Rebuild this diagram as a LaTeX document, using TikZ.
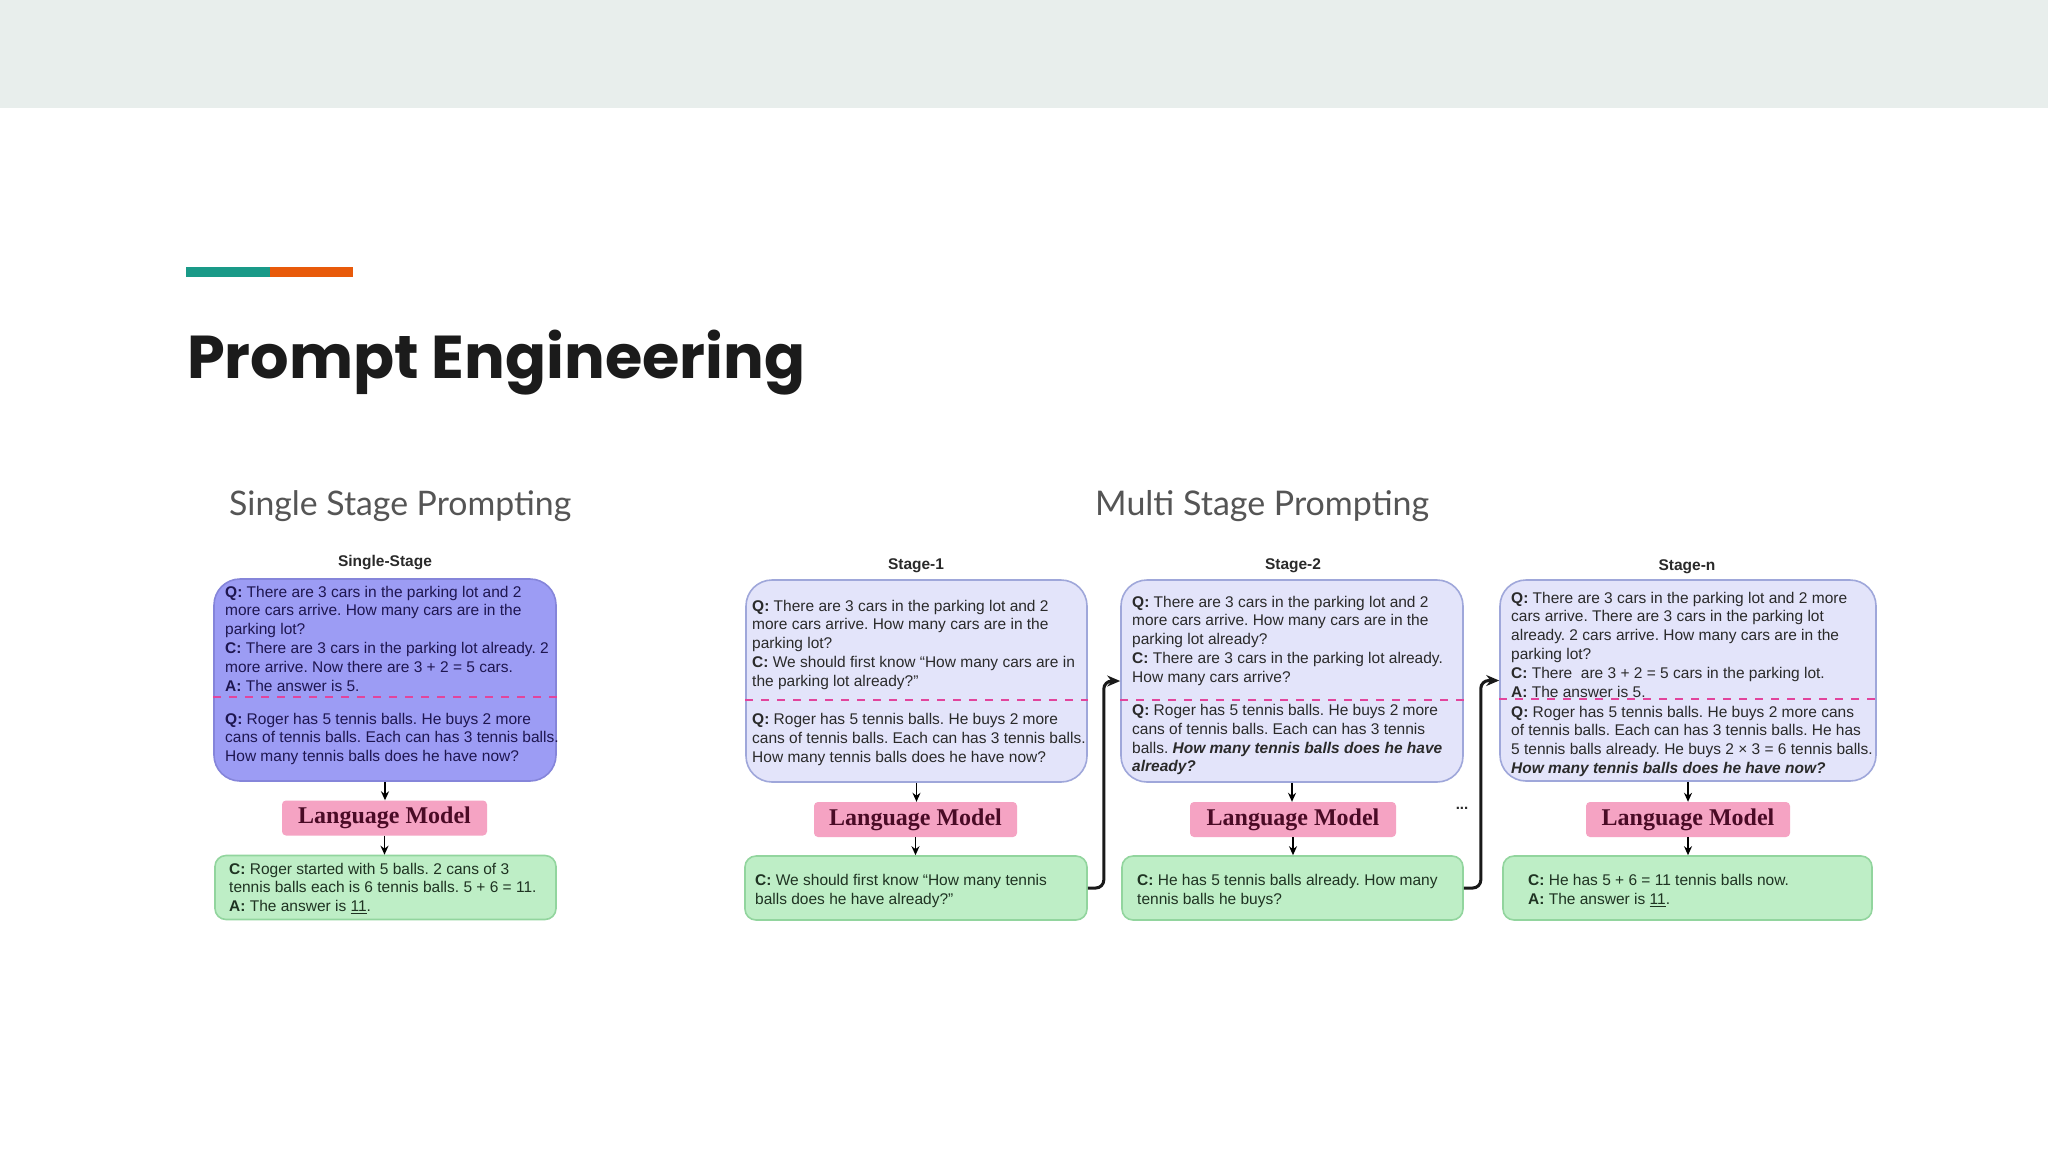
\documentclass[tikz,border=0pt]{standalone}
\usepackage{fontspec}
\setmainfont{Liberation Sans}
\newfontfamily\serifb{Liberation Serif}
\newfontfamily\titlefont{Poppins}
\newfontfamily\subfont{Lato}
\usetikzlibrary{arrows.meta}
\frenchspacing
\definecolor{band}{HTML}{E8EEEC}
\definecolor{accteal}{HTML}{1A9A88}
\definecolor{accorange}{HTML}{E85A0A}
\definecolor{titlecol}{HTML}{1B1B1B}
\definecolor{subcol}{HTML}{555555}
\definecolor{sfill}{HTML}{9C9CF4}
\definecolor{sdraw}{HTML}{8585DA}
\definecolor{stext}{HTML}{1E1650}
\definecolor{mfill}{HTML}{E3E4FA}
\definecolor{mdraw}{HTML}{9FA7DA}
\definecolor{mtext}{HTML}{2A2A2A}
\definecolor{dashcol}{HTML}{E2449C}
\definecolor{lmfill}{HTML}{F5A3C3}
\definecolor{lmtext}{HTML}{4A0B26}
\definecolor{gfill}{HTML}{BEEEC6}
\definecolor{gdraw}{HTML}{92D59E}
\definecolor{gtext}{HTML}{1F3322}
\newcommand{\lns}[1]{\begin{tabular}[t]{@{}l@{}}#1\end{tabular}}
\newcommand{\lblQ}{\textbf{Q:}\ }
\newcommand{\lblC}{\textbf{C:}\ }
\newcommand{\lblA}{\textbf{A:}\ }
\newcommand{\bitx}[1]{\textbf{\textit{#1}}}
\tikzset{
  bodyfont/.style={font=\frenchspacing\fontsize{15.5}{18.8}\selectfont},
  txt/.style={bodyfont, anchor=base west, inner sep=0pt},
  qbox/.style={rounded corners=26pt, line width=1.6pt, inner sep=0pt},
  singlebox/.style={qbox, fill=sfill, draw=sdraw},
  stagebox/.style={qbox, fill=mfill, draw=mdraw},
  lmbox/.style={fill=lmfill, draw=none, rounded corners=4pt, inner sep=0pt,
    minimum height=35pt, text=lmtext, font=\serifb\bfseries\fontsize{24}{28}\selectfont},
  ansbox/.style={fill=gfill, draw=gdraw, line width=1.6pt, rounded corners=11pt,
    inner sep=0pt, minimum height=64pt},
  dashline/.style={draw=dashcol, line width=2.4pt, dash pattern=on 8pt off 8pt},
  flow/.style={line width=1.6pt, -{Stealth[length=9pt,width=8pt]}},
  conn/.style={line width=3pt, rounded corners=8pt, draw=black!90,
    -{Stealth[length=13pt,width=11pt]}},
  stagelbl/.style={font=\bfseries\fontsize{15.5}{18}\selectfont, text=mtext, inner sep=0pt}
}
\begin{document}
\begin{tikzpicture}[x=1pt,y=-1pt]
\useasboundingbox (0,0) rectangle (2048,1152);
\fill[white] (0,0) rectangle (2048,1152);
% header band and accent
\fill[band] (0,0) rectangle (2048,108);
\fill[accteal] (186,267) rectangle (270,277);
\fill[accorange] (270,267) rectangle (353,277);
% titles
\node[anchor=base west, inner sep=0pt, text=titlecol] (title) at (187,378)
  {\resizebox{618pt}{!}{\titlefont\bfseries Prompt Engineering}};
\node[anchor=base west, inner sep=0pt, text=subcol] (subsingle) at (229,515)
  {\resizebox{342pt}{!}{\subfont Single Stage Prompting}};
\node[anchor=base west, inner sep=0pt, text=subcol] (submulti) at (1095,515)
  {\resizebox{334pt}{!}{\subfont Multi Stage Prompting}};

% stage labels
\node[stagelbl] (lsingle) at (385,563) {Single-Stage};
\node[stagelbl] (lstage1) at (916,566) {Stage-1};
\node[stagelbl] (lstage2) at (1293,566) {Stage-2};
\node[stagelbl] (lstagen) at (1687,567) {Stage-n};

% question boxes
\node[singlebox, minimum width=342pt, minimum height=202pt] (sbox) at (385,680) {};
\node[stagebox, minimum width=341pt, minimum height=202pt] (s1box) at (916.5,681) {};
\node[stagebox, minimum width=342pt, minimum height=202pt] (s2box) at (1292,681) {};
\node[stagebox, minimum width=376pt, minimum height=201pt] (snbox) at (1688,680.5) {};

% dashed separators
\draw[dashline] (sbox.west |- 0,697) -- (sbox.east |- 0,697);
\draw[dashline] (s1box.west |- 0,700) -- (s1box.east |- 0,700);
\draw[dashline] (s2box.west |- 0,700) -- (s2box.east |- 0,700);
\draw[dashline] (snbox.west |- 0,699) -- (snbox.east |- 0,699);

% single stage text
\node[txt, text=stext] (sq1) at (225,597) {\lns{%
\lblQ There are 3 cars in the parking lot and 2\\
more cars arrive. How many cars are in the\\
parking lot?\\
\lblC There are 3 cars in the parking lot already. 2\\
more arrive. Now there are 3 + 2 = 5 cars.\\
\lblA The answer is 5.}};
\node[txt, text=stext] (sq2) at (225,724) {\lns{%
\lblQ Roger has 5 tennis balls. He buys 2 more\\
cans of tennis balls. Each can has 3 tennis balls.\\
How many tennis balls does he have now?}};

% stage 1 text
\node[txt, text=mtext] (s1q1) at (752,611) {\lns{%
\lblQ There are 3 cars in the parking lot and 2\\
more cars arrive. How many cars are in the\\
parking lot?\\
\lblC We should first know “How many cars are in\\
the parking lot already?”}};
\node[txt, text=mtext] (s1q2) at (752,724.5) {\lns{%
\lblQ Roger has 5 tennis balls. He buys 2 more\\
cans of tennis balls. Each can has 3 tennis balls.\\
How many tennis balls does he have now?}};

% stage 2 text
\node[txt, text=mtext] (s2q1) at (1132,607) {\lns{%
\lblQ There are 3 cars in the parking lot and 2\\
more cars arrive. How many cars are in the\\
parking lot already?\\
\lblC There are 3 cars in the parking lot already.\\
How many cars arrive?}};
\node[txt, text=mtext] (s2q2) at (1132,715.5) {\lns{%
\lblQ Roger has 5 tennis balls. He buys 2 more\\
cans of tennis balls. Each can has 3 tennis\\
balls. \bitx{How many tennis balls does he have}\\
\bitx{already?}}};

% stage n text
\node[txt, text=mtext] (snq1) at (1511,603) {\lns{%
\lblQ There are 3 cars in the parking lot and 2 more\\
cars arrive. There are 3 cars in the parking lot\\
already. 2 cars arrive. How many cars are in the\\
parking lot?\\
\lblC There\ \ are 3 + 2 = 5 cars in the parking lot.\\
\lblA The answer is 5.}};
\node[txt, text=mtext] (snq2) at (1511,717) {\lns{%
\lblQ Roger has 5 tennis balls. He buys 2 more cans\\
of tennis balls. Each can has 3 tennis balls. He has\\
5 tennis balls already. He buys 2 × 3 = 6 tennis balls.\\
\bitx{How many tennis balls does he have now?}}};

% language model boxes
\node[lmbox, minimum width=205pt] (lms) at (384.5,818) {Language Model};
\node[lmbox, minimum width=203pt] (lm1) at (915.5,819.5) {Language Model};
\node[lmbox, minimum width=206pt] (lm2) at (1293,819.5) {Language Model};
\node[lmbox, minimum width=204pt] (lmn) at (1688,819.5) {Language Model};

% answer boxes
\node[ansbox, minimum width=341pt] (gs) at (385.5,887.5) {};
\node[ansbox, minimum width=342pt] (g1) at (916,888) {};
\node[ansbox, minimum width=341pt] (g2) at (1292.5,888) {};
\node[ansbox, minimum width=369pt] (gn) at (1687.5,888) {};

\node[txt, text=gtext] (gst) at (229,874) {\lns{%
\lblC Roger started with 5 balls. 2 cans of 3\\
tennis balls each is 6 tennis balls. 5 + 6 = 11.\\
\lblA The answer is \underline{11}.}};
\node[txt, text=gtext] (g1t) at (755,885.5) {\lns{%
\lblC We should first know “How many tennis\\
balls does he have already?”}};
\node[txt, text=gtext] (g2t) at (1137,885.5) {\lns{%
\lblC He has 5 tennis balls already. How many\\
tennis balls he buys?}};
\node[txt, text=gtext] (gnt) at (1528,885.5) {\lns{%
\lblC He has 5 + 6 = 11 tennis balls now.\\
\lblA The answer is \underline{11}.}};

% flow arrows
\draw[flow] (sbox.south) -- (sbox.south |- lms.north);
\draw[flow] (lms.south) -- (lms.south |- gs.north);
\draw[flow] (s1box.south) -- (s1box.south |- lm1.north);
\draw[flow] (lm1.south) -- (lm1.south |- g1.north);
\draw[flow] (s2box.south) -- (s2box.south |- lm2.north);
\draw[flow] (lm2.south) -- (lm2.south |- g2.north);
\draw[flow] (snbox.south) -- (snbox.south |- lmn.north);
\draw[flow] (lmn.south) -- (lmn.south |- gn.north);

% stage connectors
\draw[conn] (g1.east) -- ++(16,0) |- (s2box.west);
\draw[conn] (g2.east) -- ++(17,0) |- (snbox.west);

\node[font=\bfseries\fontsize{15}{18}\selectfont, text=mtext, inner sep=0pt] (dots) at (1462,808) {...};
\end{tikzpicture}
\end{document}
